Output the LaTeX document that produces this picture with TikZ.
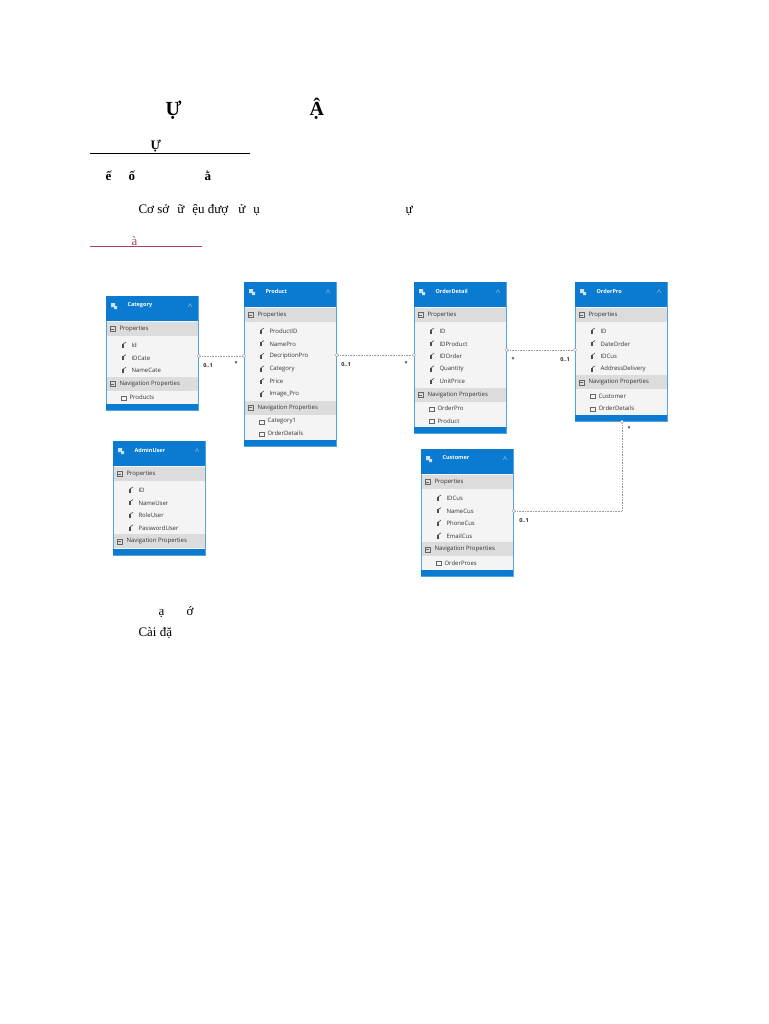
\documentclass[tikz,border=0pt]{standalone}
\usepackage{fontspec}
\setmainfont{Liberation Serif}
\newfontfamily\uifont{Open Sans}
\usepackage{xcolor}
\definecolor{hdr}{HTML}{0A7BD0}
\definecolor{band}{HTML}{DCDCDC}
\definecolor{rowbg}{HTML}{F4F4F4}
\definecolor{link}{HTML}{9A9A9A}
\definecolor{pinkline}{HTML}{B0406A}
\tikzset{
  x=1pt, y=-1pt,
  entitybox/.style={draw=hdr!70, line width=0.8pt, fill=rowbg, anchor=north west, inner sep=0pt},
  band/.style={fill=band},
  title/.style={font=\uifont\fontsize{5.5}{6}\selectfont\bfseries, text=white, anchor=west},
  sect/.style={font=\uifont\fontsize{6}{7}\selectfont, text=black!80, anchor=west},
  item/.style={font=\uifont\fontsize{6}{7}\selectfont, text=black!80, anchor=west},
  mult/.style={font=\uifont\fontsize{5.5}{6}\selectfont\bfseries, text=black!85},
  assoc/.style={draw=link, densely dotted, line width=0.6pt},
  endmark/.style={circle, draw=link, fill=white, inner sep=1.2pt},
  doc/.style={font=\fontsize{13}{15}\selectfont, anchor=base west}
}
% name, left, top, #props, props, #navs, navs
\newcommand\entity[7]{
  \pgfmathsetmacro\hgt{25+2+14+#4*12.6+3+14+#6*12.2+6}
  \node[entitybox, minimum width=92pt, minimum height=\hgt pt] (#1) at (#2,#3) {};
  \fill[hdr] (#2,#3) rectangle ++(92,25);
  \fill[hdr] (#2,#3+\hgt-6) rectangle ++(92,6);
  \node[title] at (#2+18,#3+9) {#1};
  \node[text=white, font=\fontsize{6}{6}\selectfont\bfseries] at (#2+84,#3+10) {$\wedge$};
  \fill[white!80!hdr] (#2+5,#3+7) rectangle ++(4,4) (#2+8,#3+10) rectangle ++(3,3);
  \fill[band] (#2+0.5,#3+26) rectangle ++(91,14);
  \draw[black!60, line width=0.4pt] (#2+4,#3+30.5) rectangle ++(5,5) (#2+5,#3+33)--++(3,0);
  \node[sect] at (#2+10,#3+33) {Properties};
  \foreach \p [count=\i] in {#5}{
    \fill[black!70] (#2+16,#3+40+\i*12.6-4.8) rectangle ++(2,4);
    \draw[black!70, line width=0.6pt] (#2+17,#3+40+\i*12.6-4.6) -- ++(3,-2);
    \node[item] at (#2+22,#3+40+\i*12.6-3.3) {\p};
  }
  \pgfmathsetmacro\navy{#3+40+#4*12.6+3}
  \fill[band] (#2+0.5,\navy) rectangle ++(91,14);
  \draw[black!60, line width=0.4pt] (#2+4,\navy+4.5) rectangle ++(5,5) (#2+5,\navy+7)--++(3,0);
  \node[sect] at (#2+10,\navy+7) {Navigation Properties};
  \foreach \p [count=\i] in {#7}{
    \draw[black!60, line width=0.4pt] (#2+15,\navy+14+\i*12.2-7) rectangle ++(5,4);
    \node[item] at (#2+20,\navy+14+\i*12.2-5.5) {\p};
  }
}

\begin{document}
\begin{tikzpicture}
\useasboundingbox (0,0) rectangle (768,1024);
\fill[white] (0,0) rectangle (768,1024);

% page text
\node[doc, font=\fontsize{20}{22}\selectfont\bfseries] (t1) at (162,116) {Ự};
\node[doc, font=\fontsize{20}{22}\selectfont\bfseries] (t2) at (306,116) {Ậ};
\node[doc, font=\fontsize{13}{15}\selectfont\bfseries] (t3) at (147,150) {Ự};
\draw[line width=0.7pt] (90,153) -- (250,153);
\node[doc, font=\fontsize{13}{15}\selectfont\bfseries] at (102,181) {ế};
\node[doc, font=\fontsize{13}{15}\selectfont\bfseries] at (125,181) {ố};
\node[doc, font=\fontsize{13}{15}\selectfont\bfseries] at (201,181) {ằ};
\node[doc] at (135,214) {Cơ sở\hspace{8pt}ữ\hspace{8pt}ệu đượ\hspace{10pt}ử\hspace{8pt}ụ};
\node[doc] at (402,214) {ự};
\node[doc, text=pinkline] at (128,245) {à};
\draw[pinkline, line width=0.6pt] (90,246) -- (202,246);
\node[doc] at (155,615) {ạ};
\node[doc] at (183,615) {ớ};
\node[doc] at (135,636) {Cài đặ};

% entities
\entity{Category}{106}{296}{3}{Id,IDCate,NameCate}{1}{Products}
\entity{Product}{244}{282}{6}{ProductID,NamePro,DecriptionPro,Category,Price,Image\_Pro}{2}{Category1,OrderDetails}
\entity{OrderDetail}{414}{282}{5}{ID,IDProduct,IDOrder,Quantity,UnitPrice}{2}{OrderPro,Product}
\entity{OrderPro}{575}{282}{4}{ID,DateOrder,IDCus,AddressDelivery}{2}{Customer,OrderDetails}
\entity{AdminUser}{113}{441}{4}{ID,NameUser,RoleUser,PasswordUser}{0}{}
\entity{Customer}{421}{449}{4}{IDCus,NameCus,PhoneCus,EmailCus}{1}{OrderProes}

% associations
\coordinate (c1) at (Category.east |- 0,356);
\coordinate (p1) at (Product.west |- 0,356);
\coordinate (p2) at (Product.east |- 0,355);
\coordinate (d1) at (OrderDetail.west |- 0,355);
\coordinate (d2) at (OrderDetail.east |- 0,350);
\coordinate (o1) at (OrderPro.west |- 0,350);
\coordinate (u1) at (Customer.east |- 0,511);
\coordinate (o2) at (622,0 |- OrderPro.south);
\draw[assoc] (c1) -- (p1);
\draw[assoc] (p2) -- (d1);
\draw[assoc] (d2) -- (o1);
\draw[assoc] (u1) -| (o2);
\foreach \e in {c1,p1,p2,d1,d2,o1,u1,o2} \node[endmark] at (\e) {};
\node[mult] at (208,366) {0..1};
\node[mult] at (236,363) {*};
\node[mult] at (346,365) {0..1};
\node[mult] at (406,363) {*};
\node[mult] at (513,359) {*};
\node[mult] at (565,360) {0..1};
\node[mult] at (524,521) {0..1};
\node[mult] at (629,428) {*};
\end{tikzpicture}
\end{document}
